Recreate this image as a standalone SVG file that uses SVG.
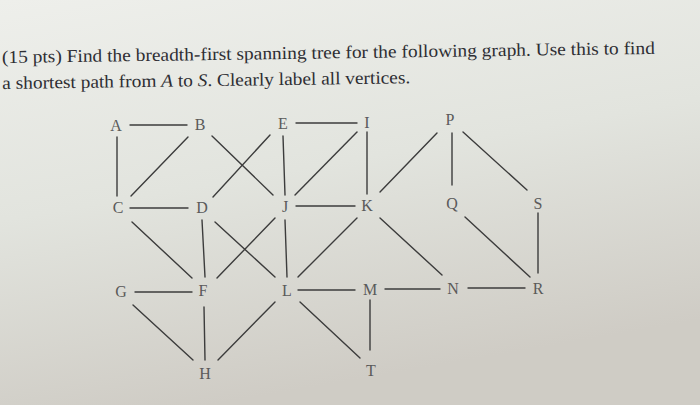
<svg xmlns="http://www.w3.org/2000/svg" width="700" height="405" viewBox="0 0 700 405">
  <defs>
    <linearGradient id="bg" x1="0" y1="0" x2="0.3" y2="1">
      <stop offset="0" stop-color="#eeefeb"/>
      <stop offset="0.5" stop-color="#e2e4de"/>
      <stop offset="1" stop-color="#cfccc5"/>
    </linearGradient>
    <style>
      .title { font-family: "Liberation Serif", "DejaVu Serif", serif; font-size: 18px; fill: #2e2e33; }
      .lbl { font-family: "Liberation Serif", "DejaVu Serif", serif; font-size: 16px; fill: #5a5a5a; text-anchor: middle; }
      .edge { stroke: #3c3c3c; stroke-width: 1.4; fill: none; stroke-linecap: round; }
    </style>
  </defs>
  <rect x="0" y="0" width="700" height="405" fill="url(#bg)"/>

  <g id="title" transform="rotate(-0.8 0 63)">
    <text class="title" x="2" y="63" textLength="653" lengthAdjust="spacingAndGlyphs">(15 pts) Find the breadth-first spanning tree for the following graph.  Use this to find</text>
    <text class="title" x="2" y="89" textLength="408" lengthAdjust="spacingAndGlyphs">a shortest path from <tspan font-style="italic">A</tspan> to <tspan font-style="italic">S</tspan>. Clearly label all vertices.</text>
  </g>

  <g id="edges" class="edge">
    <line x1="130" y1="125" x2="187" y2="125"/>
    <line x1="117" y1="137" x2="117" y2="196"/>
    <line x1="131" y1="196" x2="188" y2="137"/>
    <line x1="212" y1="136" x2="273" y2="195"/>
    <line x1="213" y1="197" x2="270" y2="135"/>
    <line x1="283" y1="136" x2="285" y2="195"/>
    <line x1="296" y1="123" x2="357" y2="123"/>
    <line x1="295" y1="195" x2="357" y2="132"/>
    <line x1="367" y1="132" x2="367" y2="194"/>
    <line x1="296" y1="206" x2="355" y2="206"/>
    <line x1="380" y1="192" x2="437" y2="133"/>
    <line x1="452" y1="133" x2="452" y2="185"/>
    <line x1="463" y1="132" x2="527" y2="190"/>
    <line x1="130" y1="208" x2="188" y2="208"/>
    <line x1="132" y1="222" x2="192" y2="278"/>
    <line x1="202" y1="220" x2="205" y2="277"/>
    <line x1="215" y1="222" x2="275" y2="277"/>
    <line x1="275" y1="218" x2="217" y2="278"/>
    <line x1="285" y1="220" x2="287" y2="277"/>
    <line x1="357" y1="218" x2="298" y2="277"/>
    <line x1="380" y1="218" x2="442" y2="275"/>
    <line x1="465" y1="217" x2="530" y2="277"/>
    <line x1="538" y1="213" x2="538" y2="273"/>
    <line x1="135" y1="292" x2="192" y2="292"/>
    <line x1="298" y1="290" x2="355" y2="290"/>
    <line x1="385" y1="289" x2="440" y2="289"/>
    <line x1="468" y1="288" x2="525" y2="288"/>
    <line x1="133" y1="305" x2="193" y2="360"/>
    <line x1="204" y1="307" x2="205" y2="360"/>
    <line x1="275" y1="302" x2="218" y2="360"/>
    <line x1="300" y1="302" x2="360" y2="358"/>
    <line x1="370" y1="300" x2="370" y2="350"/>
  </g>

  <g id="node-A"><text class="lbl" x="116" y="131">A</text></g>
  <g id="node-B"><text class="lbl" x="200" y="130">B</text></g>
  <g id="node-E"><text class="lbl" x="283" y="129">E</text></g>
  <g id="node-I"><text class="lbl" x="367" y="128">I</text></g>
  <g id="node-P"><text class="lbl" x="450" y="125">P</text></g>
  <g id="node-C"><text class="lbl" x="118" y="213">C</text></g>
  <g id="node-D"><text class="lbl" x="202" y="213">D</text></g>
  <g id="node-J"><text class="lbl" x="285" y="212">J</text></g>
  <g id="node-K"><text class="lbl" x="367" y="211">K</text></g>
  <g id="node-Q"><text class="lbl" x="452" y="209">Q</text></g>
  <g id="node-S"><text class="lbl" x="538" y="209">S</text></g>
  <g id="node-G"><text class="lbl" x="121" y="297">G</text></g>
  <g id="node-F"><text class="lbl" x="203" y="296">F</text></g>
  <g id="node-L"><text class="lbl" x="287" y="296">L</text></g>
  <g id="node-M"><text class="lbl" x="370" y="295">M</text></g>
  <g id="node-N"><text class="lbl" x="453" y="294">N</text></g>
  <g id="node-R"><text class="lbl" x="538" y="294">R</text></g>
  <g id="node-H"><text class="lbl" x="205" y="379">H</text></g>
  <g id="node-T"><text class="lbl" x="371" y="376">T</text></g>
</svg>
